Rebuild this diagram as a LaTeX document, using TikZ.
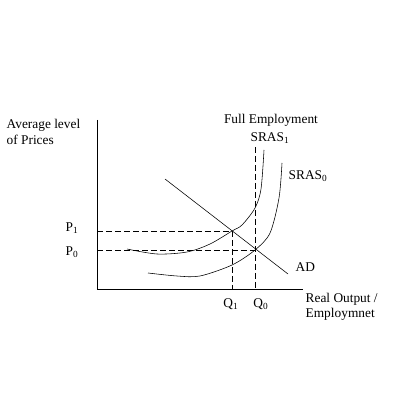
\documentclass[tikz,border=0pt]{standalone}
\usepackage{fontspec}
\setmainfont{Liberation Serif}
\begin{document}
\begin{tikzpicture}[x=.025cm,y=-.025cm, lbl/.style={font=\fontsize{9.5}{10.8}\selectfont, inner sep=1pt}, guide/.style={dash pattern=on 4.3pt off 2.1pt}]
\useasboundingbox (0,0) rectangle (400,400);
\path (97,120) coordinate (top) (97,289) coordinate (o) (303,289) coordinate (right)
(232,231) coordinate (E1) (255,250) coordinate (E0) (255,147) coordinate (F)
(165,179) coordinate (ad0) (288,274) coordinate (ad1);
% axes and AD
\draw (top) -- (o) -- (right);
\draw (ad0) -- (ad1);
% short run supply
\draw plot[smooth, tension=.5] coordinates {(127,249) (157,254) (187,252) (210,244) (E1) (242,225) (255,208) (261,189) (264,150)};
\draw plot[smooth, tension=.5] coordinates {(148,273) (177,276) (200,276) (232,265) (E0) (270,233) (279,198) (282,163)};
% dashed guides
\draw[guide] (o |- E1) -- (E1) -- (E1 |- o) (o |- E0) -- (E0) (F) -- (F |- o);
% labels
\path (5,132) node[lbl, anchor=west, align=left] (yl) {Average level\\of Prices}
(72,228) node[lbl] (p1) {P\textsubscript{1}} (72,252) node[lbl] (p0) {P\textsubscript{0}}
(271,120) node[lbl] (fe) {Full Employment} (270,138) node[lbl] (s1) {SRAS\textsubscript{1}}
(287,176) node[lbl, anchor=west] (s0) {SRAS\textsubscript{0}} (294,267) node[lbl, anchor=west] (ad) {AD}
(231,304) node[lbl] (q1) {Q\textsubscript{1}} (261,304) node[lbl] (q0) {Q\textsubscript{0}}
(304,307) node[lbl, anchor=west, align=left] (xl) {Real Output /\\Employmnet};
\end{tikzpicture}
\end{document}
